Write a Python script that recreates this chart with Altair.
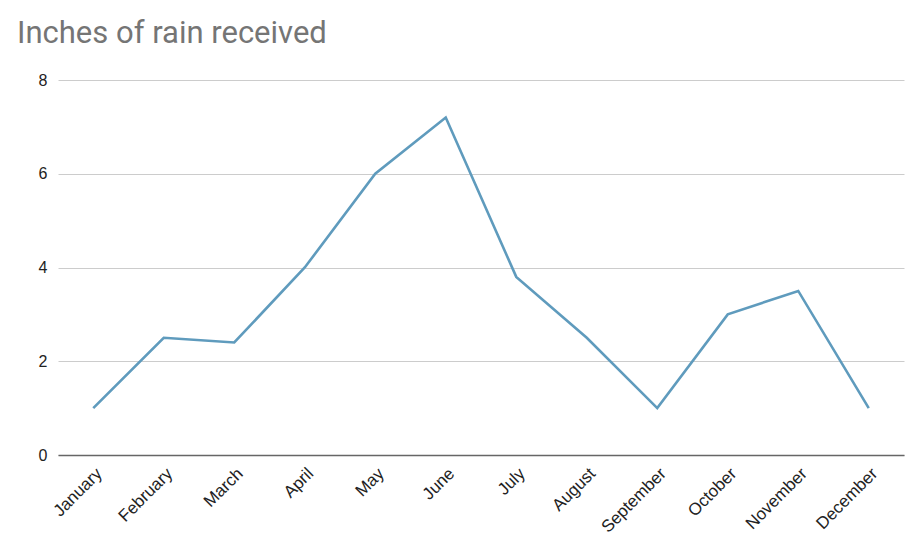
import altair as alt
import pandas as pd

months = ["January", "February", "March", "April", "May", "June",
          "July", "August", "September", "October", "November", "December"]
rain = [1.0, 2.5, 2.4, 4.0, 6.0, 7.2, 3.8, 2.5, 1.0, 3.0, 3.5, 1.0]

df = pd.DataFrame({"Month": months, "Rain": rain})

chart = alt.Chart(df).mark_line(color="#5f9bbd", strokeWidth=2.6).encode(
    x=alt.X("Month:N", sort=months, scale=alt.Scale(type="point", padding=0.5),
            axis=alt.Axis(title=None, labelAngle=-45, labelFontSize=17, labelColor="#222222",
                          labelFont="Liberation Sans", ticks=False, domainColor="#666666",
                          domainWidth=1.5, labelPadding=10, grid=False)),
    y=alt.Y("Rain:Q", scale=alt.Scale(domain=[0, 8]),
            axis=alt.Axis(title=None, values=[0, 2, 4, 6, 8], labelFontSize=16,
                          labelColor="#222222", labelFont="Liberation Sans", ticks=False,
                          domain=False, gridColor="#cccccc", gridWidth=1, labelPadding=11)),
).properties(
    width=846, height=375,
    title=alt.Title("Inches of rain received", anchor="start", frame="group",
                    fontSize=31, font="Roboto", fontWeight="normal", color="#757575",
                    dx=-41, offset=22),
    autosize=alt.AutoSizeParams(type="none"),
    padding={"left": 58, "top": 80, "right": 18, "bottom": 98},
).configure_view(stroke=None)

chart.save("out.html", embed_options={"renderer": "svg", "actions": False})
